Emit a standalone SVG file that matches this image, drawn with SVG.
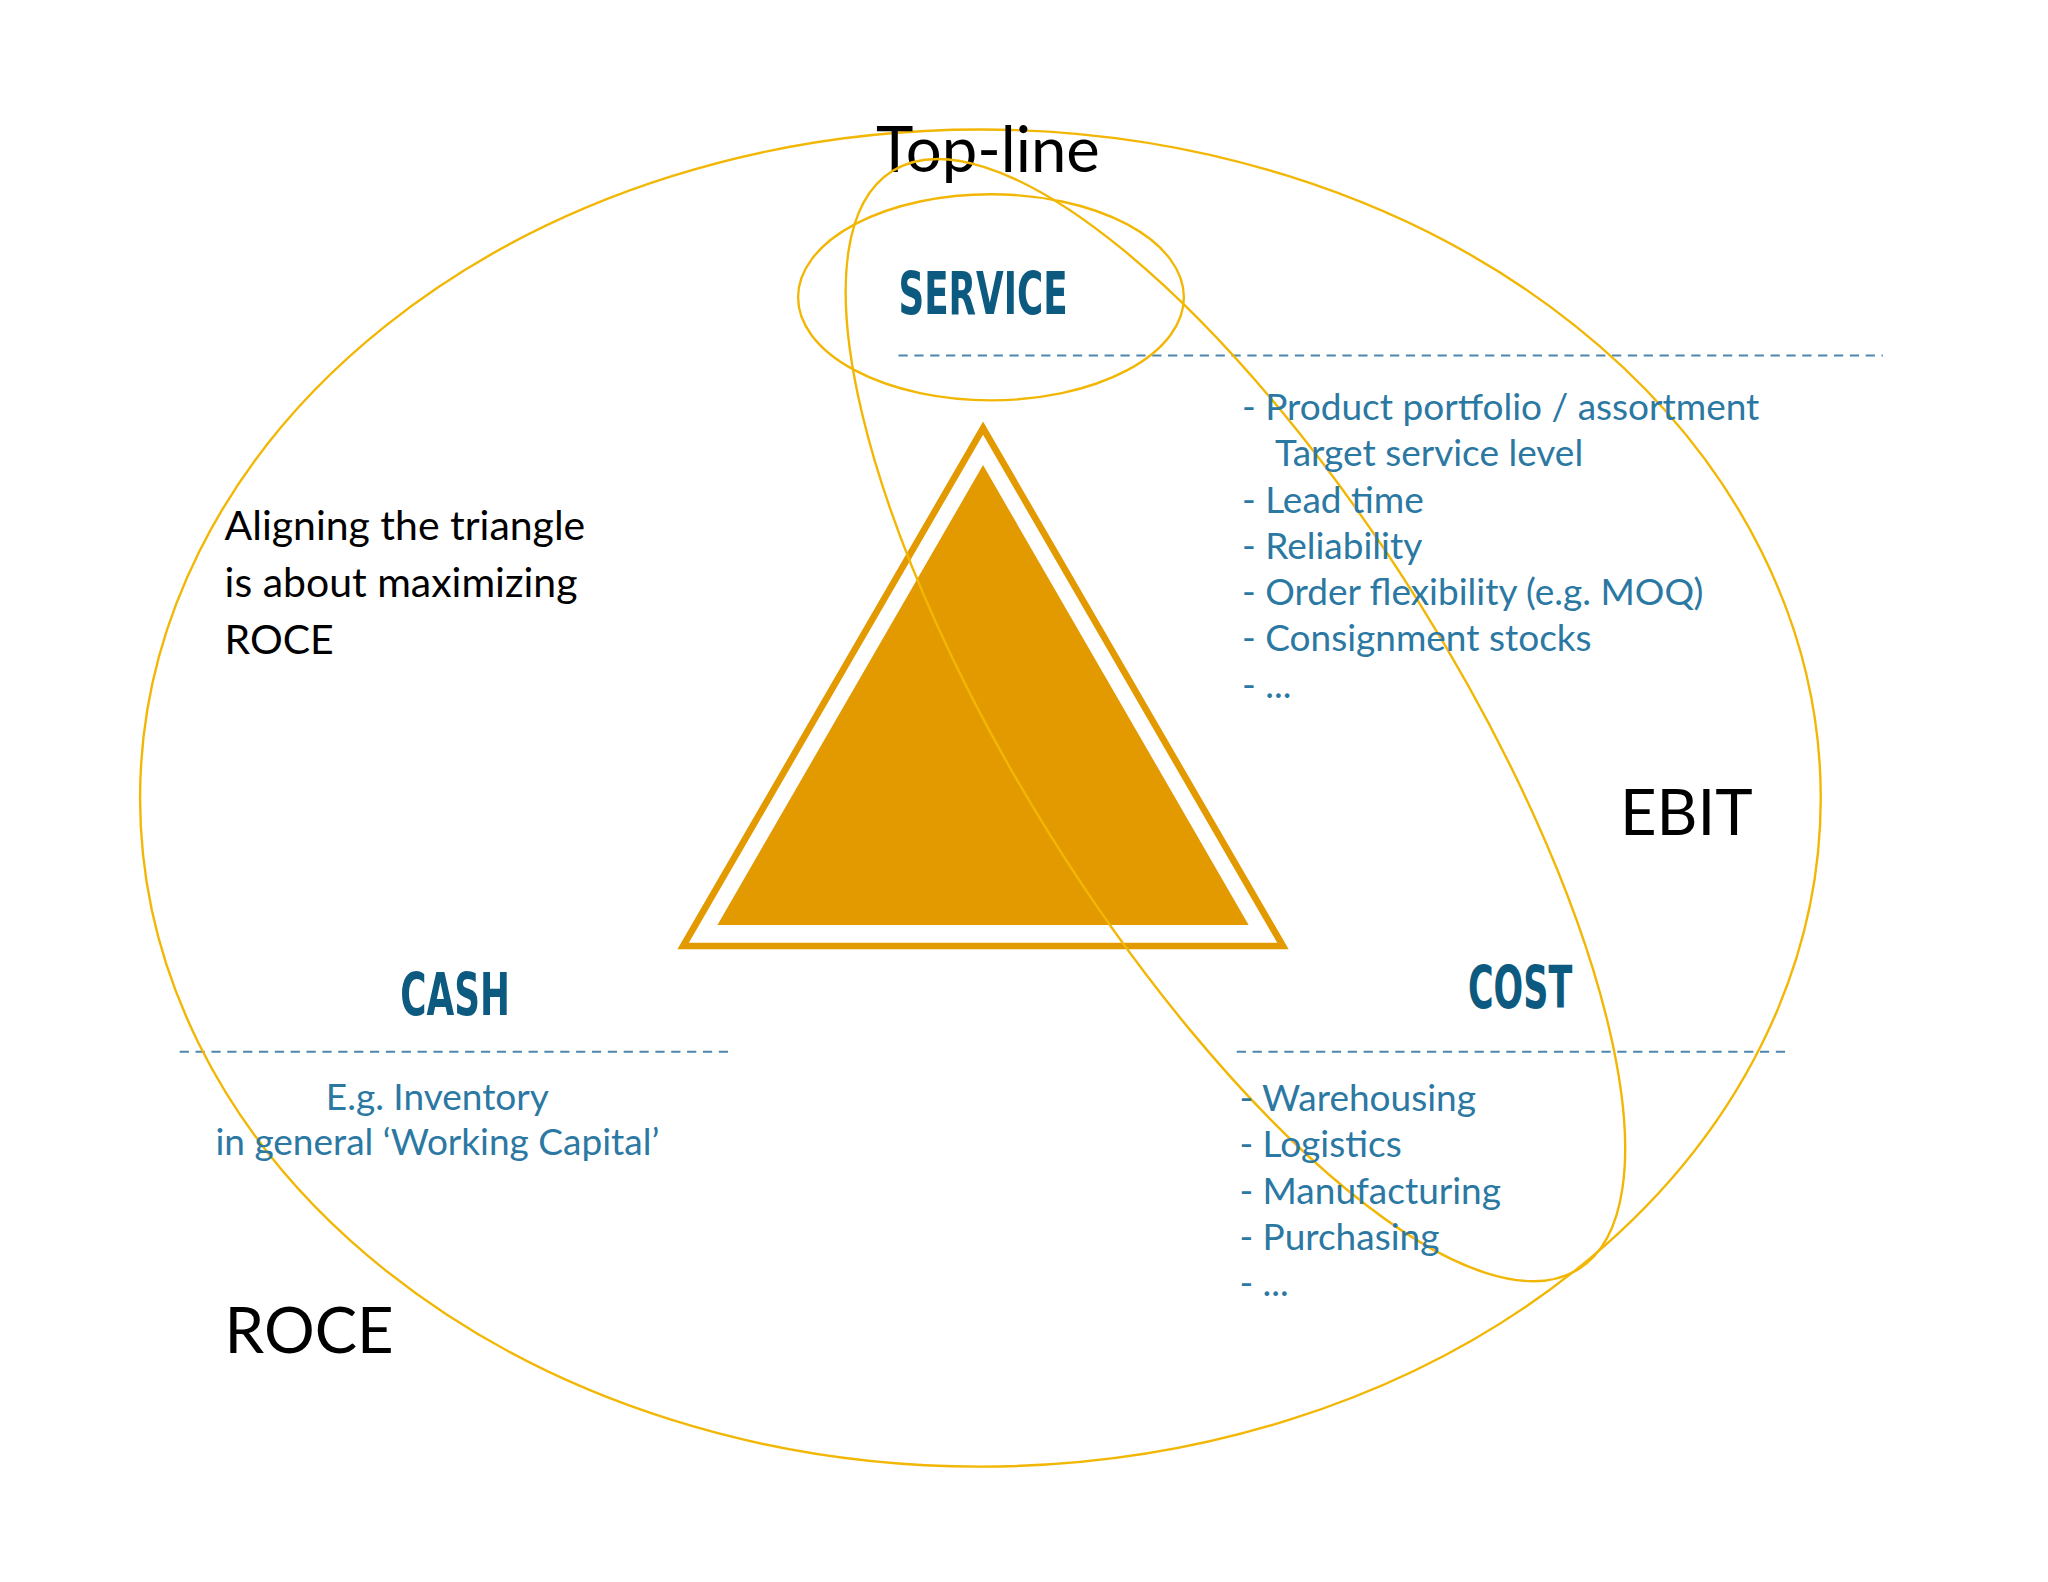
<svg xmlns="http://www.w3.org/2000/svg" width="2048" height="1582" viewBox="0 0 2048 1582">
<style>
.ov{fill:none;stroke:#F2B705;stroke-width:1.8}
.dash{stroke:#4f86b0;stroke-width:1.5;stroke-dasharray:7 5}
.blk{font-family:Lato,"Open Sans",sans-serif;fill:#000}
.hd{font-family:"DejaVu Sans Condensed","DejaVu Sans",sans-serif;font-weight:bold;fill:#0d5a80;font-size:44px}
.li{font-family:Lato,"Open Sans",sans-serif;fill:#2b78a3;font-size:28px}
</style>
<rect width="2048" height="1582" fill="#fff"/>
<g transform="scale(1.3213)">
<g id="triangle">
<polygon points="744,324 517,716 971,716" fill="none" stroke="#E39A00" stroke-width="5"/>
<polygon points="744,352 543,700 945,700" fill="#E39A00"/>
</g>
<g id="connectors">
<line class="dash" x1="680" y1="269" x2="1425" y2="269"/>
<line class="dash" x1="136" y1="796" x2="556" y2="796"/>
<line class="dash" x1="936" y1="796" x2="1356" y2="796"/>
</g>
<g id="roce">
<ellipse class="ov" cx="742" cy="604" rx="636" ry="506"/>
<text class="blk" x="170" y="1024" font-size="48">ROCE</text>
</g>
<g id="service">
<ellipse class="ov" cx="750" cy="225" rx="146" ry="78"/>
<text class="hd" x="680" y="238" textLength="128" lengthAdjust="spacingAndGlyphs">SERVICE</text>
<text class="blk" x="663" y="130" font-size="48">Top-line</text>
</g>
<g id="ebit">
<ellipse class="ov" cx="935" cy="545" rx="490" ry="165" transform="rotate(58 935 545)"/>
<text class="blk" x="1226" y="632" font-size="48">EBIT</text>
</g>
<g id="service-list" class="li">
<text x="940" y="318">-  Product portfolio / assortment</text>
<text x="965" y="353">Target service level</text>
<text x="940" y="388">-  Lead time</text>
<text x="940" y="423">-  Reliability</text>
<text x="940" y="458">-  Order flexibility (e.g. MOQ)</text>
<text x="940" y="493">-  Consignment stocks</text>
<text x="940" y="528">-  ...</text>
</g>
<g id="cash">
<text class="hd" x="303" y="768" textLength="83" lengthAdjust="spacingAndGlyphs">CASH</text>
<text class="li" x="331" y="840" text-anchor="middle">E.g. Inventory</text>
<text class="li" x="331" y="874" text-anchor="middle">in general ‘Working Capital’</text>
</g>
<g id="cost">
<text class="hd" x="1111" y="763" textLength="79" lengthAdjust="spacingAndGlyphs">COST</text>
<g class="li">
<text x="938" y="841">-  Warehousing</text>
<text x="938" y="876">-  Logistics</text>
<text x="938" y="911">-  Manufacturing</text>
<text x="938" y="946">-  Purchasing</text>
<text x="938" y="981">-  ...</text>
</g>
</g>
<g id="note" class="blk" font-size="31">
<text x="170" y="409">Aligning the triangle</text>
<text x="170" y="452">is about maximizing</text>
<text x="170" y="495">ROCE</text>
</g>
</g>
</svg>
